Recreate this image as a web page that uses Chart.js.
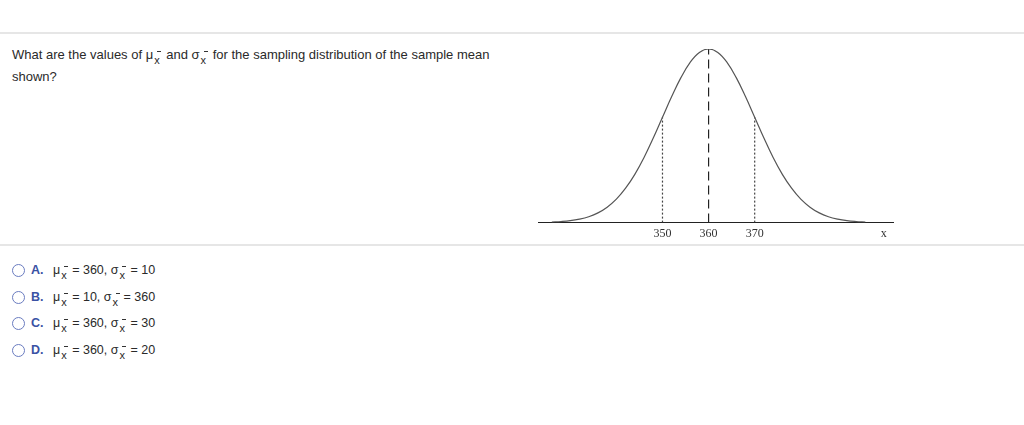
<!DOCTYPE html>
<html>
<head>
<meta charset="utf-8">
<script src="https://cdn.jsdelivr.net/npm/chart.js@4"></script>
<style>
  body { margin: 0; width: 1024px; height: 425px; background: #fff; font-family: "Liberation Sans", Arial, sans-serif; color: #2a2a2a; position: relative; overflow: hidden; }
  .rule { position: absolute; left: 0; width: 1024px; height: 2px; background: #e6e6e6; }
  #question { position: absolute; left: 12px; top: 44px; font-size: 13px; line-height: 22px; width: 520px; }
  .xbar { display: inline-block; position: relative; font-size: 11px; line-height: 11px; vertical-align: -5px; margin-left: 1px; margin-right: 3px; }
  .xbar::before { content: ""; position: absolute; left: 3px; top: -4px; width: 4px; height: 1px; background: #333; }
  #chart-box { position: absolute; left: 530px; top: 30px; width: 370px; height: 215px; }
  .option { position: absolute; left: 12px; height: 20px; font-size: 12.5px; line-height: 20px; white-space: nowrap; }
  .option .xbar { margin-right: 2px; }
  .option .radio { position: absolute; left: 0; top: 4px; width: 11px; height: 11px; border: 1.5px solid #6a7cc0; border-radius: 50%; }
  .option .letter { position: absolute; left: 19px; font-weight: bold; color: #3a52a4; }
  .option .expr { position: absolute; left: 41px; }
</style>
</head>
<body>
<div class="rule" style="top:32px"></div>
<div class="rule" style="top:244px"></div>

<div id="question">What are the values of μ<span class="xbar">x</span> and σ<span class="xbar">x</span> for the sampling distribution of the sample mean<br>shown?</div>

<div id="chart-box"><canvas id="curve"></canvas></div>

<div id="options"></div>

<script>
// curve heights (percent of peak), x from 326 to 394 step 2
const xValues = [326, 328, 330, 332, 334, 336, 338, 340, 342, 344, 346, 348, 350, 352, 354, 356, 358, 360,
  362, 364, 366, 368, 370, 372, 374, 376, 378, 380, 382, 384, 386, 388, 390, 392, 394];
const heights = [0.3, 0.6, 1.1, 2.0, 3.4, 5.6, 8.9, 13.5, 19.8, 27.8, 37.5, 48.7, 60.7, 72.6, 83.5, 92.3, 98.0, 100,
  98.0, 92.3, 83.5, 72.6, 60.7, 48.7, 37.5, 27.8, 19.8, 13.5, 8.9, 5.6, 3.4, 2.0, 1.1, 0.6, 0.3];
const meanValue = 360;
const sigmaMarks = [350, 370];
const sigmaHeight = 60.7;
const tickValues = [350, 360, 370];
const axisLabel = "x";
const axisLabelAt = 398;

const choices = ["A.", "B.", "C.", "D."];
const muAnswers = [360, 10, 360, 360];
const sigmaAnswers = [10, 360, 30, 20];

const optionsBox = document.querySelector("#options");
const rowTops = [260, 287, 313, 340];
choices.forEach((c, i) => {
  const row = document.createElement("div");
  row.className = "option";
  row.style.top = rowTops[i] + "px";
  row.innerHTML = `<span class="radio"></span><span class="letter">${c}</span>
    <span class="expr">μ<span class="xbar">x</span> = ${muAnswers[i]}, σ<span class="xbar">x</span> = ${sigmaAnswers[i]}</span>`;
  optionsBox.appendChild(row);
});

const curvePoints = xValues.map((x, i) => ({ x: x, y: heights[i] }));

new Chart(document.querySelector("#curve"), {
  type: "scatter",
  data: {
    datasets: [
      {
        data: curvePoints,
        showLine: true,
        borderColor: "#555",
        borderWidth: 1.2,
        pointRadius: 0,
        tension: 0.4
      },
      {
        data: [{ x: meanValue, y: 0 }, { x: meanValue, y: 100 }],
        showLine: true,
        borderColor: "#222",
        borderWidth: 1.2,
        borderDash: [9, 5],
        pointRadius: 0
      },
      ...sigmaMarks.map(v => ({
        data: [{ x: v, y: 0 }, { x: v, y: sigmaHeight }],
        showLine: true,
        borderColor: "#444",
        borderWidth: 1.2,
        borderDash: [2, 2],
        pointRadius: 0
      }))
    ]
  },
  options: {
    animation: false,
    responsive: true,
    maintainAspectRatio: false,
    layout: { padding: { top: 19, left: 8, right: 7, bottom: 0 } },
    plugins: { legend: { display: false }, tooltip: { enabled: false } },
    scales: {
      x: {
        type: "linear",
        min: 323,
        max: 400,
        grid: { display: false, drawTicks: false },
        border: { display: true, color: "#222", width: 1 },
        afterBuildTicks: axis => {
          axis.ticks = tickValues.concat([axisLabelAt]).map(v => ({ value: v }));
        },
        ticks: {
          padding: 4,
          color: "#333",
          font: { family: "Liberation Serif", size: 12 },
          callback: value => value === axisLabelAt ? axisLabel : value
        }
      },
      y: {
        display: false,
        min: 0,
        max: 100
      }
    }
  }
});
</script>
</body>
</html>
